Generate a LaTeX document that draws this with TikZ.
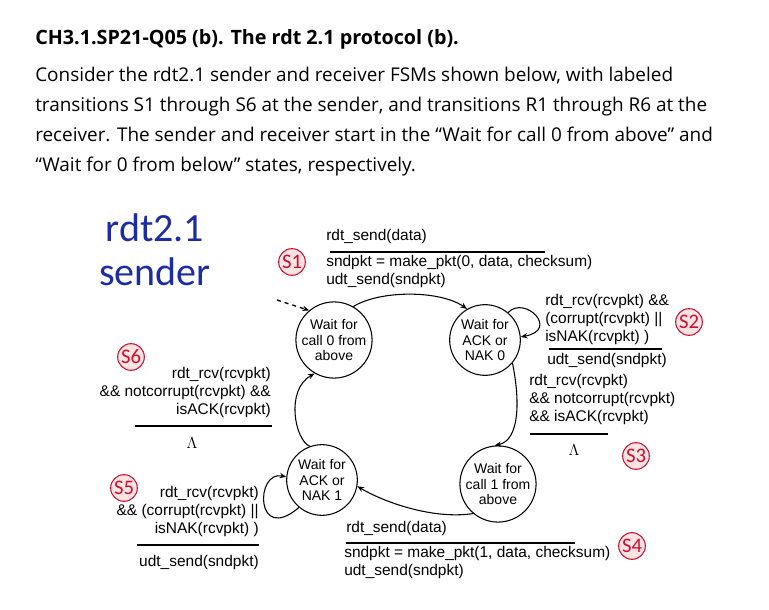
\documentclass[tikz,border=0pt]{standalone}
\usepackage{fontspec}
\setmainfont{Liberation Sans}
\newfontfamily\txtfont{Open Sans}
\newfontfamily\calfont{Carlito}
\usetikzlibrary{arrows.meta}
\definecolor{sred}{HTML}{C8102E}
\definecolor{sfill}{HTML}{FDE3E3}
\definecolor{sblue}{HTML}{1C2BA6}
\begin{document}
\begin{tikzpicture}[x=0.75pt,y=-0.75pt,
  para/.style={anchor=base west,inner sep=0pt,font=\txtfont\fontsize{14.2}{16}\selectfont},
  state/.style={circle,draw,line width=0.8pt,minimum size=53pt,inner sep=0pt,align=center,font=\fontsize{10.5}{11.5}\selectfont},
  lbl/.style={inner sep=0pt,font=\fontsize{11.6}{13.4}\selectfont},
  tag/.style={circle,draw=sred,fill=sfill,line width=0.8pt,text=sred,minimum size=20pt,inner sep=0pt,font=\calfont\fontsize{15.5}{15.5}\selectfont},
  arr/.style={line width=0.8pt,-{Stealth[length=5pt,width=4pt]}},
  bar/.style={line width=1pt}]
\useasboundingbox (0,0) rectangle (769,610);
\node[para,font=\txtfont\bfseries\fontsize{14.8}{16}\selectfont] (h) at (35,45) {CH3.1.SP21-Q05 (b). The rdt 2.1 protocol (b).};
\node[para] (p1) at (35,82) {Consider the rdt2.1 sender and receiver FSMs shown below, with labeled};
\node[para] (p2) at (35,112) {transitions S1 through S6 at the sender, and transitions R1 through R6 at the};
\node[para] (p3) at (35,142) {receiver. The sender and receiver start in the “Wait for call 0 from above” and};
\node[para] (p4) at (35,172) {“Wait for 0 from below” states, respectively.};
\node[inner sep=0pt,text=sblue,font=\calfont\fontsize{30}{33}\selectfont,align=center] (t) at (155,250) {rdt2.1\\sender};
% states
\node[state] (c0) at (334,340) {Wait for\\call 0 from\\above};
\node[state] (a0) at (485,340) {Wait for\\ACK or\\NAK 0};
\node[state] (c1) at (498,484) {Wait for\\call 1 from\\above};
\node[state] (a1) at (322,480) {Wait for\\ACK or\\NAK 1};
\coordinate (ini) at (277,300);
\draw[arr,dashed,line width=1pt] (ini) -- (c0.130);
\draw[arr] (c0.60) .. controls (380,290) and (440,290) .. (a0.120);
\draw[arr] (a0.50) .. controls (525,295) and (560,330) .. (a0.5);
\draw[arr] (a0.-40) .. controls (520,400) and (520,440) .. (c1.95);
\draw[arr] (c1.-130) .. controls (430,520) and (380,500) .. (a1.-10);
\draw[arr] (a1.-130) .. controls (255,545) and (255,470) .. (a1.175);
\draw[arr] (a1.110) .. controls (295,440) and (285,390) .. (c0.-120);
% S1
\node[lbl,anchor=west] (s1a) at (326,236) {rdt\_send(data)};
\draw[bar] (330,252) -- (545,252);
\node[lbl,anchor=north west,align=left] (s1b) at (326,255) {sndpkt = make\_pkt(0, data, checksum)\\udt\_send(sndpkt)};
\node[tag] (S1) at (292,262) {S1};
% S2
\node[lbl,anchor=north west,align=left] (s2a) at (545,294) {rdt\_rcv(rcvpkt) \&\&\\(corrupt(rcvpkt) ||\\isNAK(rcvpkt) )};
\draw[bar] (549,349) -- (662,349);
\node[lbl,anchor=west] (s2b) at (547,361) {udt\_send(sndpkt)};
\node[tag] (S2) at (689,322) {S2};
% S3
\node[lbl,anchor=north west,align=left] (s3a) at (529,374) {rdt\_rcv(rcvpkt)\\\&\& notcorrupt(rcvpkt)\\\&\& isACK(rcvpkt)};
\draw[bar] (530,434) -- (608,434);
\node[lbl] (s3b) at (574,450) {$\Lambda$};
\node[tag] (S3) at (636,456) {S3};
% S4
\node[lbl,anchor=west] (s4a) at (346,528) {rdt\_send(data)};
\draw[bar] (346,543) -- (575,543);
\node[lbl,anchor=north west,align=left] (s4b) at (344,546) {sndpkt = make\_pkt(1, data, checksum)\\udt\_send(sndpkt)};
\node[tag] (S4) at (632,546) {S4};
% S5
\node[lbl,anchor=north east,align=right] (s5a) at (259,486) {rdt\_rcv(rcvpkt)\\\&\& (corrupt(rcvpkt) ||\\isNAK(rcvpkt) )};
\draw[bar] (137,545) -- (259,545);
\node[lbl,anchor=east] (s5b) at (259,562) {udt\_send(sndpkt)};
\node[tag] (S5) at (124,488) {S5};
% S6
\node[lbl,anchor=north east,align=right] (s6a) at (271,367) {rdt\_rcv(rcvpkt)\\\&\& notcorrupt(rcvpkt) \&\&\\isACK(rcvpkt)};
\draw[bar] (135,426) -- (272,426);
\node[lbl] (s6b) at (192,443) {$\Lambda$};
\node[tag] (S6) at (131,357) {S6};
\end{tikzpicture}
\end{document}
